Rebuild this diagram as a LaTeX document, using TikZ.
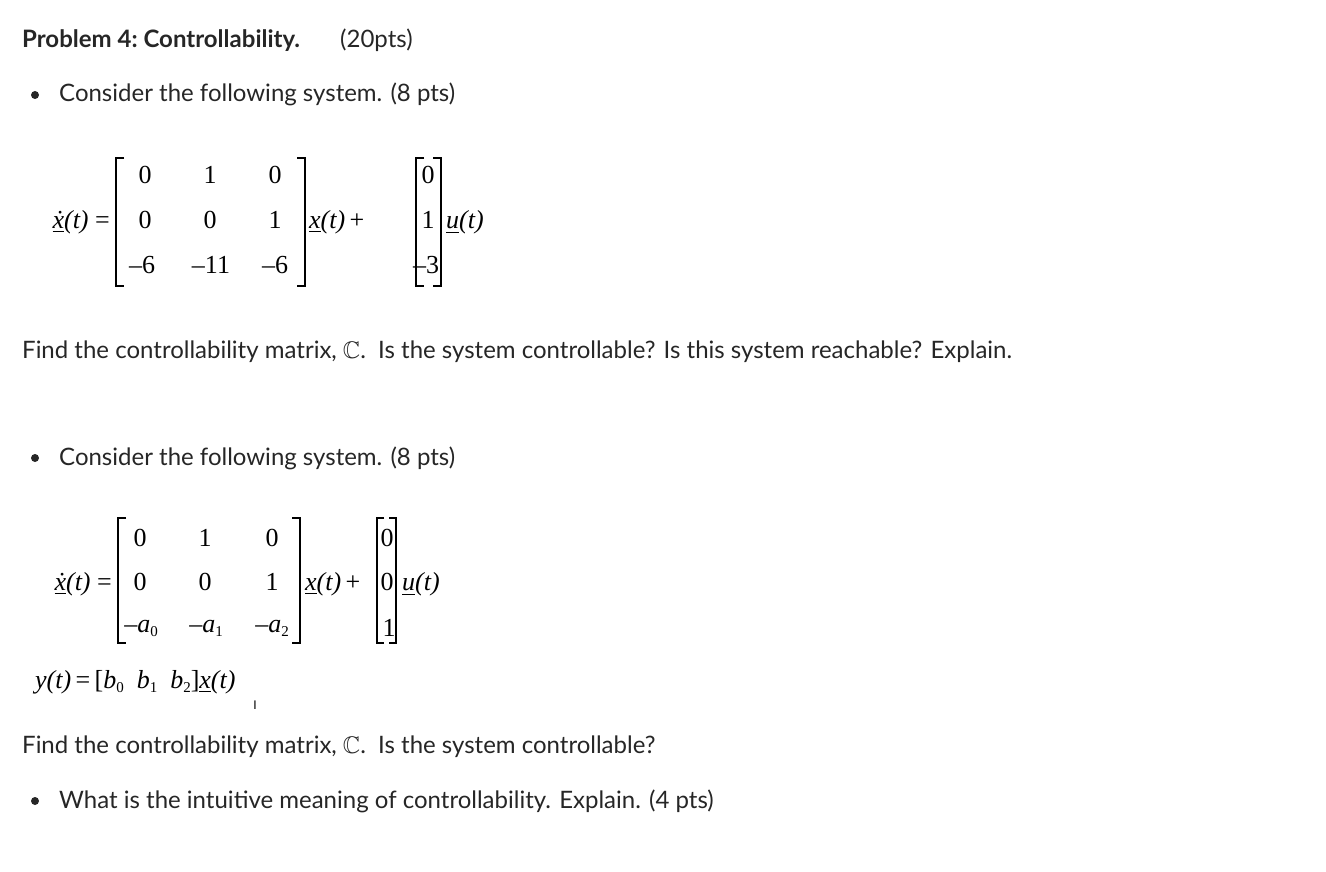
\documentclass[tikz,border=0pt]{standalone}
\usepackage{amssymb}
\usepackage{fontspec}
\setmainfont{Lato}
\newfontfamily\tms{Liberation Serif}
\newcommand{\sbx}[1]{\raisebox{-4pt}{\fontsize{15}{15}\selectfont #1}}
\newcommand{\xdotu}{\underline{\textit{\.x}}}
\begin{document}
\begin{tikzpicture}[x=1pt,y=-1pt,
  txt/.style={anchor=base west,inner sep=0pt,font=\fontsize{24}{28}\selectfont,text=black!85},
  mth/.style={inner sep=0pt,font=\tms\fontsize{26}{30}\selectfont},
  brk/.style={line width=1.4pt},
  bul/.style={circle,fill=black!85,inner sep=0pt,minimum size=8pt}]
\useasboundingbox (0,0) rectangle (1326,872);
% title
\node[txt,font=\bfseries\fontsize{24}{28}\selectfont] (title) at (22,48) {Problem 4:\ Controllability.};
\node[txt] (pts) at (340,48) {(20pts)};
\node[bul] (b1) at (35,95) {};
\node[txt] (t1) at (59,102) {Consider the following system. (8 pts)};
% matrix 1
\node[mth,anchor=east] (lhs1) at (110,222) {\xdotu\textit{(t)} =};
\node[mth] (a11) at (145,175) {0}; \node[mth] (a12) at (210,175) {1}; \node[mth] (a13) at (275,175) {0};
\node[mth] (a21) at (145,220) {0}; \node[mth] (a22) at (210,220) {0}; \node[mth] (a23) at (275,220) {1};
\node[mth] (a31) at (142,265) {–6}; \node[mth] (a32) at (211,265) {–11}; \node[mth] (a33) at (275,265) {–6};
\draw[brk] (124,158) -- (116,158) -- (116,286) -- (124,286);
\draw[brk] (297,158) -- (305,158) -- (305,286) -- (297,286);
\node[mth,anchor=west] (xt1) at (309,222) {\underline{\textit{x}}\textit{(t)}\,+};
\node[mth] (v11) at (428,175) {0}; \node[mth] (v12) at (428,220) {1}; \node[mth] (v13) at (426,265) {–3};
\draw[brk] (424,158) -- (416,158) -- (416,286) -- (424,286);
\draw[brk] (433,158) -- (441,158) -- (441,286) -- (433,286);
\node[mth,anchor=west] (ut1) at (446,222) {\underline{\textit{u}}\textit{(t)}};
\node[txt] (f1) at (22,358) {Find the controllability matrix, $\mathbb{C}$.\ \ Is the system controllable? Is this system reachable? Explain.};
% second
\node[bul] (b2) at (35,458) {};
\node[txt] (t2) at (59,465) {Consider the following system. (8 pts)};
\node[mth,anchor=east] (lhs2) at (112,584) {\xdotu\textit{(t)} =};
\node[mth] (c11) at (140,538) {0}; \node[mth] (c12) at (205,538) {1}; \node[mth] (c13) at (272,538) {0};
\node[mth] (c21) at (140,582) {0}; \node[mth] (c22) at (205,582) {0}; \node[mth] (c23) at (272,582) {1};
\node[mth] (c31) at (141,628) {–\textit{a}\sbx{0}};
\node[mth] (c32) at (206,628) {–\textit{a}\sbx{1}};
\node[mth] (c33) at (272,628) {–\textit{a}\sbx{2}};
\draw[brk] (126,518) -- (118,518) -- (118,643) -- (126,643);
\draw[brk] (292,518) -- (300,518) -- (300,643) -- (292,643);
\node[mth,anchor=west] (xt2) at (305,584) {\underline{\textit{x}}\textit{(t)}\,+};
\node[mth] (w1) at (387,538) {0}; \node[mth] (w2) at (387,582) {0}; \node[mth] (w3) at (389,628) {1};
\draw[brk] (384,518) -- (377,518) -- (377,643) -- (384,643);
\draw[brk] (389,518) -- (396,518) -- (396,643) -- (389,643);
\node[mth,anchor=west] (ut2) at (402,584) {\underline{\textit{u}}\textit{(t)}};
\node[mth,anchor=west] (yeq) at (35,682) {\textit{y(t)}\,=\,[\textit{b}\sbx{0}\ \ \textit{b}\sbx{1}\ \ \textit{b}\sbx{2}]\underline{\textit{x}}\textit{(t)}};
\node[inner sep=0pt,font=\fontsize{12}{12}\selectfont] (bar) at (255,705) {I};
\node[txt] (f2) at (22,753) {Find the controllability matrix, $\mathbb{C}$.\ \ Is the system controllable?};
\node[bul] (b3) at (35,801) {};
\node[txt] (t3) at (59,808) {What is the intuitive meaning of controllability. Explain. (4 pts)};
\end{tikzpicture}
\end{document}
